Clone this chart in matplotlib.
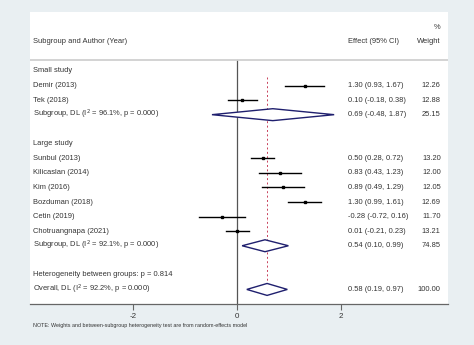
import numpy as np
import matplotlib.pyplot as plt
from matplotlib.patches import Polygon

plt.rcParams['font.family'] = ['Liberation Sans', 'DejaVu Sans']
plt.rcParams['axes.unicode_minus'] = False

# study rows
studies = ['Demir (2013)', 'Tek (2018)', 'Sunbul (2013)', 'Kilicaslan (2014)', 'Kim (2016)',
           'Bozduman (2018)', 'Cetin (2019)', 'Chotruangnapa (2021)']
study_rows = [1, 2, 6, 7, 8, 9, 10, 11]
effect = [1.30, 0.10, 0.50, 0.83, 0.89, 1.30, -0.28, 0.01]
lo = [0.93, -0.18, 0.28, 0.43, 0.49, 0.99, -0.72, -0.21]
hi = [1.67, 0.38, 0.72, 1.23, 1.29, 1.61, 0.16, 0.23]
weight = [12.26, 12.88, 13.20, 12.00, 12.05, 12.69, 11.70, 13.21]

# pooled estimates (diamonds)
pooled_labels = ['Subgroup, DL (I$^2$ = 96.1%, p = 0.000)',
                 'Subgroup, DL (I$^2$ = 92.1%, p = 0.000)',
                 'Overall, DL (I$^2$ = 92.2%, p = 0.000)']
pooled_rows = [3, 12, 15]
pooled_eff = [0.69, 0.54, 0.58]
pooled_lo = [-0.48, 0.10, 0.19]
pooled_hi = [1.87, 0.99, 0.97]
pooled_w = [25.15, 74.85, 100.00]

headings = ['Small study', 'Large study', 'Heterogeneity between groups: p = 0.814']
heading_rows = [0, 5, 14]

xticks = [-2, 0, 2]

bg = '#e9eff2'
txt = '#333333'
navy = '#1f1f6e'
fs = 5.4

fig = plt.figure(figsize=(4.74, 3.45), dpi=100, facecolor=bg)
ax = fig.add_axes([30 / 474, 1 - 304 / 345, 418 / 474, 292 / 345])
ax.set_facecolor('white')
ax.set_xlim(-3.98, 4.06)
ax.set_ylim(16.0, -4.05)

overall = pooled_eff[-1]

# reference lines
ax.plot([0, 0], [-0.75, 16.0], color='#555555', lw=0.9, zorder=2)
ax.plot([overall, overall], [0.4, 15.4], color='#c8405a', lw=0.7,
        ls=(0, (2, 2.5)), zorder=1)
ax.axhline(-0.75, color='#d0d0d0', lw=1.3)

# header
ax.text(-3.92, -2.0, 'Subgroup and Author (Year)', fontsize=fs, color=txt, va='center')
ax.text(2.13, -2.0, 'Effect (95% CI)', fontsize=fs, color=txt, va='center')
ax.text(3.92, -2.0, 'Weight', fontsize=fs, color=txt, va='center', ha='right')
ax.text(3.92, -3.0, '%', fontsize=fs, color=txt, va='center', ha='right')

for lab, r in zip(headings, heading_rows):
    ax.text(-3.92, r, lab, fontsize=fs, color=txt, va='center')

for lab, r, e, l, h, w in zip(studies, study_rows, effect, lo, hi, weight):
    ax.plot([l, h], [r, r], color='black', lw=1.0, zorder=3)
    ax.plot(e, r, 's', color='black', ms=1.8, zorder=4)
    ax.text(-3.92, r, lab, fontsize=fs, color=txt, va='center')
    ax.text(2.13, r, f'{e:.2f} ({l:.2f}, {h:.2f})', fontsize=fs, color=txt, va='center')
    ax.text(3.92, r, f'{w:.2f}', fontsize=fs, color=txt, va='center', ha='right')

for lab, r, e, l, h, w in zip(pooled_labels, pooled_rows, pooled_eff, pooled_lo, pooled_hi, pooled_w):
    d = 0.41
    ax.add_patch(Polygon([[l, r], [e, r - d], [h, r], [e, r + d]], closed=True,
                         facecolor='white', edgecolor=navy, lw=1.0, zorder=3))
    ax.text(-3.92, r, lab, fontsize=fs, color=txt, va='center')
    ax.text(2.13, r, f'{e:.2f} ({l:.2f}, {h:.2f})', fontsize=fs, color=txt, va='center')
    ax.text(3.92, r, f'{w:.2f}', fontsize=fs, color=txt, va='center', ha='right')

for s in ['top', 'left', 'right']:
    ax.spines[s].set_visible(False)
ax.spines['bottom'].set_color('#666666')
ax.spines['bottom'].set_linewidth(0.9)
ax.set_yticks([])
ax.set_xticks(xticks)
ax.tick_params(axis='x', length=4, width=0.8, color='#666666', labelsize=5.8,
               labelcolor=txt, pad=2.5)

fig.text(33 / 474, 1 - 326 / 345,
         'NOTE: Weights and between-subgroup heterogeneity test are from random-effects model',
         fontsize=3.9, color=txt, va='center')

fig.savefig('out.png', dpi=100, facecolor=bg)
